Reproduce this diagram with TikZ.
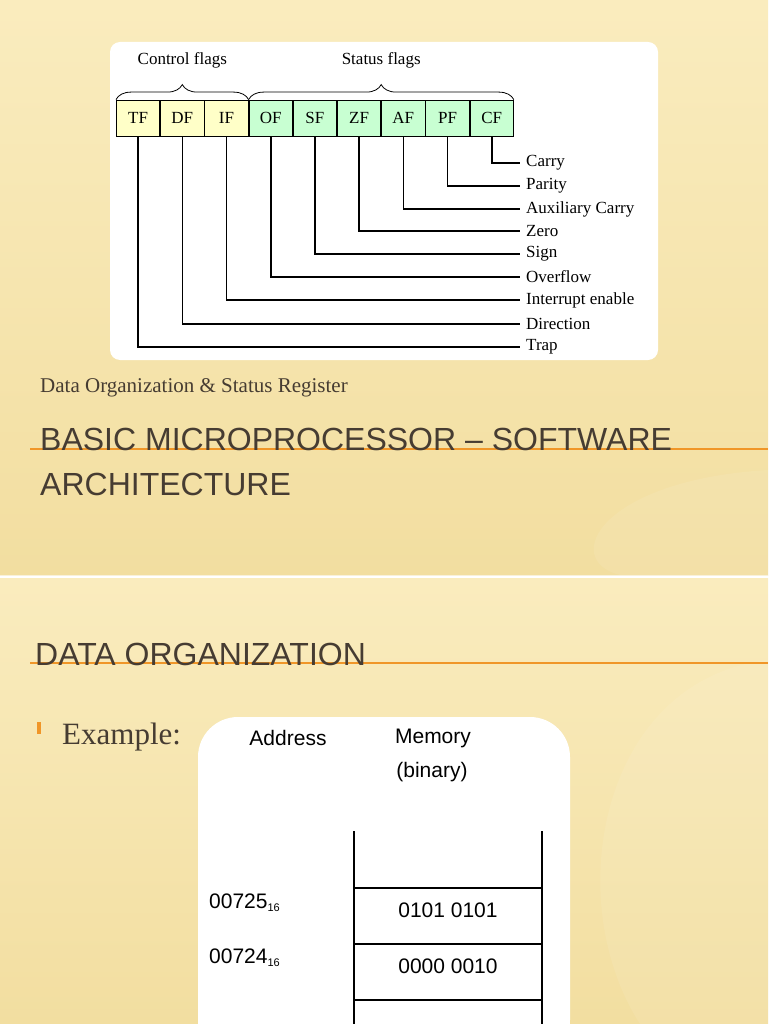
\documentclass[tikz,border=0pt]{standalone}
\usepackage{fontspec}
\setmainfont{Liberation Serif}
\setsansfont{Liberation Sans}
\usetikzlibrary{decorations.pathreplacing}
\definecolor{bgA}{RGB}{250,236,190}
\definecolor{bgB}{RGB}{242,222,160}
\definecolor{ttl}{RGB}{70,60,50}
\definecolor{orl}{RGB}{240,150,40}
\definecolor{cyel}{RGB}{255,255,200}
\definecolor{cgrn}{RGB}{200,255,210}
\tikzset{
  flag/.style={draw,line width=0.8pt,minimum width=43.4pt,minimum height=36pt,inner sep=0pt,font=\fontsize{17}{17}\selectfont,anchor=west},
  lbl/.style={anchor=west,inner sep=0pt,font=\fontsize{17}{17}\selectfont},
  wire/.style={line width=1.6pt},
  ttext/.style={anchor=base west,inner sep=0pt,text=ttl,font=\sffamily\fontsize{32}{32}\selectfont},
  memt/.style={inner sep=0pt,font=\sffamily\fontsize{21}{21}\selectfont},
}
\begin{document}
\begin{tikzpicture}[x=1pt,y=-1pt]
\useasboundingbox (0,0) rectangle (768,1024);
% backgrounds
\shade[top color=bgA,bottom color=bgB] (0,0) rectangle (768,575);
\shade[top color=bgA,bottom color=bgB] (0,578) rectangle (768,1024);
\fill[white,opacity=0.6] (0,575) rectangle (768,578);
\fill[white,opacity=0.08] (768,470) .. controls (600,480) and (560,560) .. (620,575) -- (768,575) -- cycle;
\fill[white,opacity=0.08] (768,660) .. controls (600,680) and (560,900) .. (640,1024) -- (768,1024) -- cycle;
% flags panel
\fill[white,rounded corners=10pt] (110,42) rectangle (658,360);
\node[flag,fill=cyel] (tf) at (116,118) {TF};
\node[flag,fill=cyel] (df) at (tf.east) {DF};
\node[flag,fill=cyel] (if) at (df.east) {IF};
\node[flag,fill=cgrn] (of) at (if.east) {OF};
\node[flag,fill=cgrn] (sf) at (of.east) {SF};
\node[flag,fill=cgrn] (zf) at (sf.east) {ZF};
\node[flag,fill=cgrn] (af) at (zf.east) {AF};
\node[flag,fill=cgrn] (pf) at (af.east) {PF};
\node[flag,fill=cgrn] (cf) at (pf.east) {CF};
\draw[decorate,decoration={brace,amplitude=15pt},line width=0.8pt] (tf.north west) -- node[above=28pt,font=\fontsize{17}{17}\selectfont] (cfl) {Control flags} (if.north east);
\draw[decorate,decoration={brace,amplitude=15pt},line width=0.8pt] (of.north west) -- node[above=28pt,font=\fontsize{17}{17}\selectfont] (sfl) {Status flags} (cf.north east);
\foreach \f/\t/\yy in {cf/Carry/163,pf/Parity/186,af/Auxiliary Carry/209,zf/Zero/231,sf/Sign/254,of/Overflow/277,if/Interrupt enable/300,df/Direction/324,tf/Trap/347}{
  \node[lbl] (l\f) at (526,\yy) {\t};
  \draw[wire] (\f.south) |- ([xshift=-6pt]l\f.west);
}
% titles
\node[anchor=base west,inner sep=0pt,font=\fontsize{21}{21}\selectfont,text=ttl] (sub) at (40,392) {Data Organization \& Status Register};
\draw[orl,line width=1.2pt] (30,449) -- (768,449);
\node[ttext] (t1) at (40,450) {BASIC MICROPROCESSOR – SOFTWARE};
\node[ttext] (t2) at (40,495) {ARCHITECTURE};
\draw[orl,line width=1.2pt] (30,663) -- (768,663);
\node[ttext] (t3) at (35,665) {DATA ORGANIZATION};
\fill[orl] (37,722) rectangle (41,734);
\node[anchor=base west,inner sep=0pt,font=\fontsize{31}{31}\selectfont,text=ttl] (ex) at (62,744) {Example:};
% memory panel
\fill[white,rounded corners=40pt] (198,717) rectangle (570,1060);
\node[memt] (addr) at (288,738) {Address};
\node[memt] (mem) at (433,738) {Memory};
\node[memt] (bin) at (432,772) {(binary)};
\coordinate (tl) at (354,831); \coordinate (tr) at (542,831);
\coordinate (bl) at (354,1024); \coordinate (br) at (542,1024);
\draw[line width=1.2pt] (tl) -- (bl) (tr) -- (br);
\foreach \yy in {888,944,1000} \draw[line width=1.2pt] (354,\yy) -- (542,\yy);
\node[memt,anchor=west] (a1) at (209,903) {00725\textsubscript{\fontsize{11}{11}\selectfont 16}};
\node[memt,anchor=west] (a2) at (209,958) {00724\textsubscript{\fontsize{11}{11}\selectfont 16}};
\node[memt] (v1) at (448,910) {0101 0101};
\node[memt] (v2) at (448,966) {0000 0010};
\end{tikzpicture}
\end{document}
